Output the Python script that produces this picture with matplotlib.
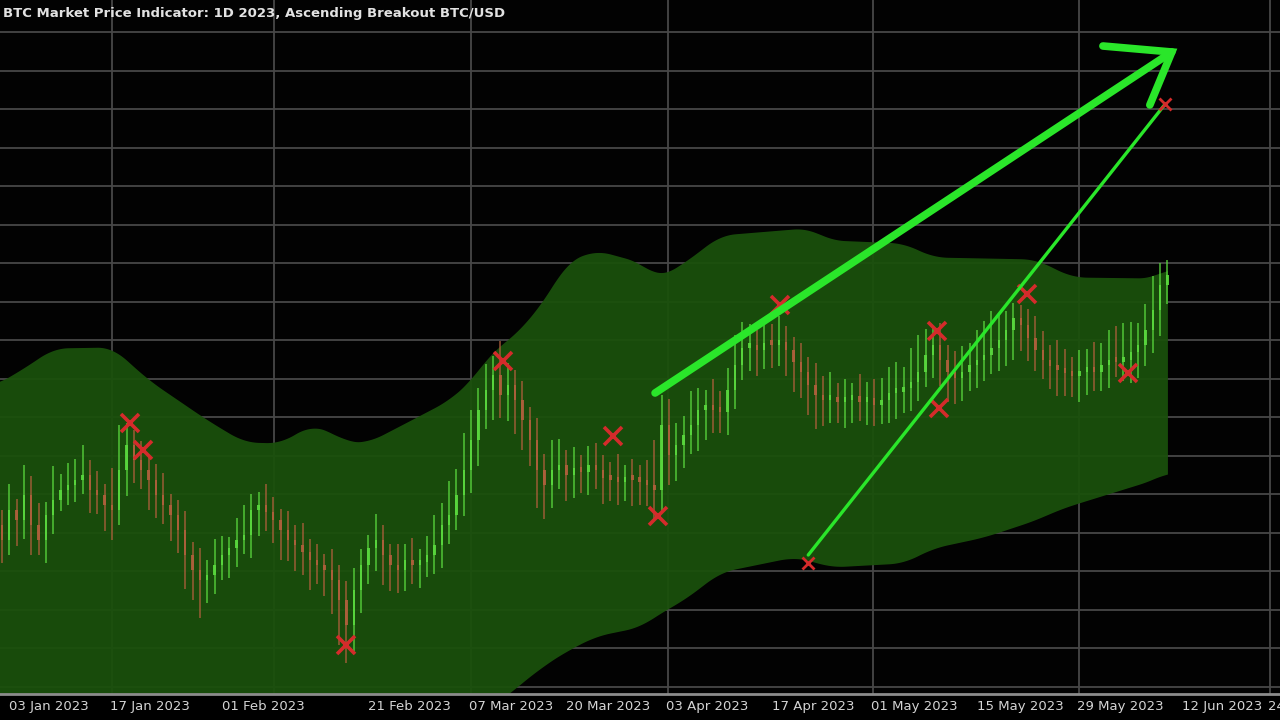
import numpy as np
import matplotlib
matplotlib.use("Agg")
import matplotlib.pyplot as plt

# ---------------- data ----------------
title_text = "BTC Market Price Indicator: 1D 2023, Ascending Breakout BTC/USD"

closes = [1360, 1420, 1400, 1450, 1390, 1360, 1410, 1440, 1460, 1470,
          1480, 1490, 1460, 1450, 1430, 1420, 1500, 1550, 1520, 1500,
          1480, 1450, 1430, 1410, 1380, 1330, 1300, 1280, 1290, 1310,
          1330, 1344, 1360, 1370, 1420, 1430, 1416, 1400, 1380, 1360,
          1350, 1336, 1320, 1310, 1300, 1280, 1240, 1190, 1260, 1310,
          1344, 1360, 1330, 1310, 1300, 1320, 1310, 1316, 1330, 1350,
          1390, 1410, 1450, 1500, 1560, 1620, 1660, 1690, 1650, 1670,
          1640, 1600, 1560, 1500, 1470, 1500, 1510, 1490, 1504, 1496,
          1510, 1500, 1484, 1480, 1476, 1484, 1480, 1476, 1470, 1460,
          1590, 1530, 1550, 1570, 1590, 1620, 1630, 1620, 1616, 1660,
          1710, 1744, 1750, 1740, 1754, 1750, 1756, 1740, 1716, 1696,
          1670, 1650, 1640, 1644, 1636, 1640, 1648, 1636, 1644, 1630,
          1640, 1654, 1656, 1664, 1676, 1696, 1730, 1750, 1720, 1696,
          1684, 1696, 1710, 1720, 1730, 1744, 1760, 1780, 1804, 1790,
          1764, 1740, 1720, 1708, 1700, 1694, 1688, 1696, 1704, 1696,
          1710, 1720, 1716, 1720, 1736, 1750, 1780, 1820, 1870, 1890]
first_open = 1390

wick_up = [30, 52, 22, 60, 38, 45, 27, 68, 33, 45,
           42, 60, 30, 38, 22, 75, 90, 45, 30, 38,
           27, 33, 45, 22, 30, 38, 27, 45, 30, 52,
           38, 22, 45, 60, 33, 27, 42, 30, 22, 38,
           30, 45, 27, 33, 22, 42, 30, 38, 45, 33,
           27, 52, 30, 22, 42, 33, 45, 27, 38, 60,
           45, 68, 52, 75, 60, 45, 52, 38, 68, 45,
           30, 38, 27, 45, 33, 60, 52, 30, 42, 27,
           38, 45, 30, 33, 52, 27, 38, 30, 45, 90,
           60, 52, 45, 38, 68, 45, 30, 52, 38, 45,
           60, 52, 42, 30, 45, 38, 52, 33, 27, 38,
           30, 45, 38, 52, 30, 42, 27, 45, 33, 38,
           45, 52, 60, 42, 68, 75, 52, 38, 45, 30,
           42, 52, 45, 60, 68, 75, 52, 38, 30, 27,
           33, 45, 38, 30, 52, 42, 33, 45, 38, 52,
           45, 60, 68, 75, 60, 45, 52, 68, 45, 30]
wick_dn = [45, 30, 52, 38, 60, 30, 45, 38, 22, 30,
           33, 27, 45, 38, 52, 60, 30, 52, 45, 38,
           60, 45, 38, 52, 45, 68, 60, 75, 45, 38,
           30, 45, 38, 27, 45, 52, 38, 45, 60, 42,
           52, 45, 60, 38, 52, 68, 90, 75, 52, 45,
           38, 45, 60, 52, 45, 42, 38, 45, 30, 38,
           45, 38, 30, 42, 45, 52, 38, 60, 45, 52,
           68, 60, 52, 75, 68, 45, 38, 52, 45, 42,
           45, 38, 52, 42, 45, 38, 52, 45, 42, 60,
           45, 60, 52, 45, 38, 52, 60, 45, 42, 45,
           38, 30, 45, 52, 38, 45, 42, 52, 60, 52,
           60, 68, 52, 45, 42, 52, 45, 38, 45, 42,
           38, 45, 52, 42, 45, 38, 30, 45, 52, 60,
           52, 45, 38, 45, 42, 38, 45, 52, 60, 52,
           45, 42, 38, 45, 52, 45, 42, 52, 45, 38,
           38, 45, 30, 38, 45, 52, 42, 45, 52, 38]

# envelope band
band_x = [-1, 3, 7, 15, 20, 25, 28, 33, 38, 42, 45, 47, 50, 55, 61, 64, 67, 69,
          70, 74, 77, 81, 87, 89, 90, 93, 98, 108, 110, 113, 123, 127, 134, 141,
          144, 146, 157, 159]
band_upper = [1670, 1704, 1744, 1746, 1680, 1630, 1600, 1556, 1554, 1590, 1576,
              1556, 1556, 1594, 1640, 1680, 1740, 1760, 1770, 1840, 1916, 1940,
              1916, 1890, 1888, 1914, 1970, 1982, 1984, 1960, 1954, 1926, 1924,
              1922, 1900, 1886, 1884, 1904]
band_lower = [1030, 1030, 1030, 1030, 1030, 1030, 1030, 1030, 1030, 1030, 1030,
              1030, 1030, 1030, 1030, 1030, 1030, 1050, 1064, 1110, 1138, 1168,
              1186, 1206, 1216, 1240, 1296, 1326, 1320, 1306, 1314, 1344, 1366,
              1400, 1420, 1430, 1480, 1496]

# pivot markers
pivot_x = [17.5, 19.2, 46.9, 68.3, 83.4, 89.5, 106.1, 127.6, 127.8, 139.8, 153.6]
pivot_y = [1594, 1540, 1150, 1718, 1568, 1408, 1830, 1778, 1624, 1852, 1694]
small_pivot_x = [110.0, 158.7]
small_pivot_y = [1314, 2232]

# trend lines
arrow_x = [89.1, 159.6]
arrow_y = [1654, 2336]
arrow_head_x = [150.2, 159.6, 156.6]
arrow_head_y = [2348, 2336, 2230]
thin_x = [110.0, 158.7]
thin_y = [1330, 2232]

# x axis
label_pos = [1, 14.7, 30, 50, 63.7, 77, 90.6, 105, 118.6, 133, 146.6, 161, 172.7]
tick_labels = ["03 Jan 2023", "17 Jan 2023", "01 Feb 2023", "21 Feb 2023",
               "07 Mar 2023", "20 Mar 2023", "03 Apr 2023", "17 Apr 2023",
               "01 May 2023", "15 May 2023", "29 May 2023", "12 Jun 2023",
               "24 Jun 2023"]
grid_x = [15, 37.1, 64, 90.9, 118.8, 146.9, 173]

# ---------------- figure ----------------
fig = plt.figure(figsize=(12.8, 7.2), dpi=100, facecolor="black")
ax = fig.add_axes([0, 26 / 720, 1, 694 / 720])
ax.set_facecolor("#020202")
ax.set_xlim(-0.27, 174.36)
ax.set_ylim(1052, 2440)

# grid
ax.set_yticks(np.arange(1067, 2380, 77))
ax.set_xticks(grid_x, [""] * len(grid_x))
ax.grid(True, which="major", color="#474747", lw=1.3)
ax.set_axisbelow(True)
ax.tick_params(axis="y", left=False, labelleft=False)
ax.tick_params(axis="x", which="both", length=0, labelbottom=False)
for s in ["top", "left", "right"]:
    ax.spines[s].set_visible(False)
ax.spines["bottom"].set_color("#8c8c8c")
ax.spines["bottom"].set_linewidth(2)

trans = ax.get_xaxis_transform()
for pos, lab in zip(label_pos, tick_labels):
    ax.text(pos, -0.009, lab, transform=trans, ha="left", va="top",
            fontsize=9.5, color="#d4d4d4", clip_on=False)

# band (smoothed outline)
fx = np.linspace(band_x[0], band_x[-1], 1600)
fu = np.interp(fx, band_x, band_upper)
fl = np.interp(fx, band_x, band_lower)
k = np.ones(41) / 41
fu_s = np.convolve(np.pad(fu, 20, mode="edge"), k, mode="valid")
fl_s = np.convolve(np.pad(fl, 20, mode="edge"), k, mode="valid")
ax.fill_between(fx, fl_s, fu_s, color="#1a500c", alpha=0.95, lw=0, zorder=1)

# candles
c = np.array(closes, dtype=float)
o = np.concatenate([[first_open], c[:-1]])
hi = np.maximum(o, c) + np.array(wick_up)
lo = np.minimum(o, c) - np.array(wick_dn)
idx = np.arange(len(c))
up = c >= o
cols = np.where(up, "#5ada3e", "#b0603c")
ax.vlines(idx, lo, hi, colors=cols, lw=1.1, alpha=0.85, zorder=2)
body_b = np.minimum(o, c)
body_h = np.maximum(np.abs(c - o), 10)
ax.bar(idx, body_h, bottom=body_b, width=0.32, color=cols, alpha=0.9, zorder=2, lw=0)

# pivots
ax.plot(pivot_x, pivot_y, ls="none", marker="x", ms=13, mew=2.6, color="#d42b2b", zorder=3)
ax.plot(small_pivot_x, small_pivot_y, ls="none", marker="x", ms=8, mew=2, color="#d42b2b", zorder=5)

# trend lines
ax.plot(thin_x, thin_y, color="#2ae62a", lw=2.4, solid_capstyle="round", zorder=4)
ax.plot(arrow_x, arrow_y, color="#2ae62a", lw=5.5, solid_capstyle="round", zorder=4)
ax.plot(arrow_head_x, arrow_head_y, color="#2ae62a", lw=5.5, solid_capstyle="round",
        solid_joinstyle="miter", zorder=4)

fig.text(0.002, 1 - 14 / 720, title_text, ha="left", va="center",
         color="#e2e2e2", fontsize=9.5, fontweight="bold")

fig.savefig("out.png", dpi=100, facecolor="black")
